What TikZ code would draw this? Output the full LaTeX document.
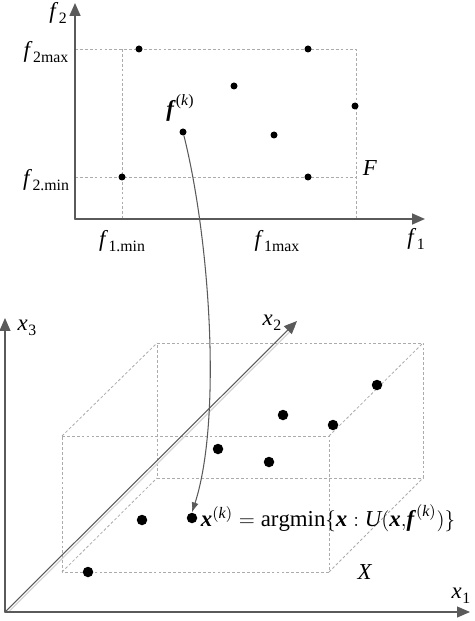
\documentclass[tikz,border=0pt]{standalone}
\usepackage{fontspec}
\setmainfont{Liberation Serif}
\usepackage{tikz}
\usetikzlibrary{arrows.meta,positioning}
\definecolor{axisgray}{HTML}{5A5A5A}
\definecolor{guidegray}{HTML}{ABABAB}
\definecolor{shadegray}{HTML}{D4D4D4}
\tikzset{
    every picture/.style={line cap=round,line join=round},
    axisline/.style={draw=axisgray,line width=0.9pt,
      -{Triangle[length=2.6mm,width=2.2mm]}},
    thinaxis/.style={draw=axisgray,line width=0.6pt,
      -{Triangle[length=2.6mm,width=2.2mm]}},
    shadeline/.style={draw=shadegray,line width=0.7pt},
    guide/.style={draw=guidegray,line width=0.45pt,line cap=butt,
      dash pattern=on 1.6pt off 1.2pt},
    smalldot/.style={circle,fill=black,inner sep=0pt,minimum size=1.4mm},
    bigdot/.style={circle,fill=black,inner sep=0pt,minimum size=2.1mm},
    axislabel/.style={inner sep=1pt,text=black},
    maparrow/.style={draw=axisgray,line width=0.6pt,
      -{Latex[length=2mm,width=1.4mm]}}
}
\newcommand{\bvec}[1]{\textbf{\textit{#1}}}
\newcommand{\sublbl}[2]{\textit{#1}\kern0.3pt\raisebox{-0.45ex}{\small #2}}

\begin{document}
\begin{tikzpicture}[x=0.02cm,y=-0.02cm,font=\fontsize{13}{15}\selectfont]
  \useasboundingbox (0,0) rectangle (474,621);
  \coordinate (o1) at (75,219);
  \coordinate (f2end) at (75,3);
  \coordinate (f1end) at (425,219);
  \coordinate (c1) at (122,49);
  \coordinate (c2) at (356,49);
  \coordinate (c3) at (356,177);
  \coordinate (c4) at (122,177);
  \draw[guide] (o1 |- c1) -- (c2) -- (c2 |- o1);
  \draw[guide] (o1 |- c4) -- (c3);
  \draw[guide] (c1) -- (c1 |- o1);
  \draw[axisline] (o1) -- (f2end);
  \draw[axisline] (o1) -- (f1end);
  \node[axislabel] (f2lab) at (58,13) {\sublbl{f}{2}};
  \node[axislabel] (f1lab) at (416,239) {\sublbl{f}{1}};
  \node[axislabel] (f2max) at (46,52) {\sublbl{f}{2max}};
  \node[axislabel] (f2min) at (46,180) {\sublbl{f}{2.min}};
  \node[axislabel] (f1min) at (122,241) {\sublbl{f}{1.min}};
  \node[axislabel] (f1max) at (277,241) {\sublbl{f}{1max}};
  \node[axislabel] (Flab) at (370,168) {\textit{F}};
  \node[smalldot] (p1) at (139,49) {};
  \node[smalldot] (p2) at (308,49) {};
  \node[smalldot] (p3) at (234,86) {};
  \node[smalldot] (p4) at (355,106) {};
  \node[smalldot] (fk) at (183,132) {};
  \node[smalldot] (p6) at (274,135) {};
  \node[smalldot] (p7) at (122,177) {};
  \node[smalldot] (p8) at (308,177) {};
  \node[axislabel] (fklab) at (180,108) {\bvec{f}\raisebox{1.1ex}{\small(\textit{k})}};
  \coordinate (o2) at (5,612);
  \coordinate (x3end) at (5,318);
  \coordinate (x1end) at (470,612);
  \coordinate (x2end) at (297,321);
  \coordinate (a) at (62,436);
  \coordinate (b) at (329,436);
  \coordinate (c) at (329,572);
  \coordinate (d) at (62,572);
  \coordinate (e) at (157,343);
  \coordinate (g) at (423,343);
  \coordinate (h) at (423,478);
  \coordinate (i) at (157,478);
  \draw[guide] (a) -- (b) -- (c) -- (d) -- cycle;
  \draw[guide] (e) -- (g) -- (h) -- (i) -- cycle;
  \draw[guide] (a) -- (e);
  \draw[guide] (b) -- (g);
  \draw[guide] (c) -- (h);
  \draw[guide] (d) -- (i);
  \draw[shadeline,transform canvas={xshift=0.7mm}] (o2) -- (291,327);
  \draw[thinaxis] (o2) -- (x3end);
  \draw[thinaxis] (o2) -- (x1end);
  \draw[thinaxis] (o2) -- (x2end);
  \node[axislabel] (x3lab) at (27,328) {\sublbl{x}{3}};
  \node[axislabel] (x2lab) at (272,323) {\sublbl{x}{2}};
  \node[axislabel] (x1lab) at (461,596) {\sublbl{x}{1}};
  \node[axislabel] (Xlab) at (365,572) {\textit{X}};
  \node[bigdot] (q1) at (88,572) {};
  \node[bigdot] (q2) at (142,520) {};
  \node[bigdot] (xk) at (192,518) {};
  \node[bigdot] (q4) at (218,449) {};
  \node[bigdot] (q5) at (269,462) {};
  \node[bigdot] (q6) at (283,415) {};
  \node[bigdot] (q7) at (333,425) {};
  \node[bigdot] (q8) at (377,385) {};
  \node[right=0.6mm of xk,inner sep=0pt] (formula)
    {$\bvec{x}^{(\mathit{k})} = \mathrm{argmin}\{\bvec{x}:\mathit{U}(\bvec{x},\!\bvec{f}^{(\mathit{k})})\}$};
  \draw[maparrow] (fk) .. controls (210,240) and (222,420) .. (xk.north);
\end{tikzpicture}
\end{document}
